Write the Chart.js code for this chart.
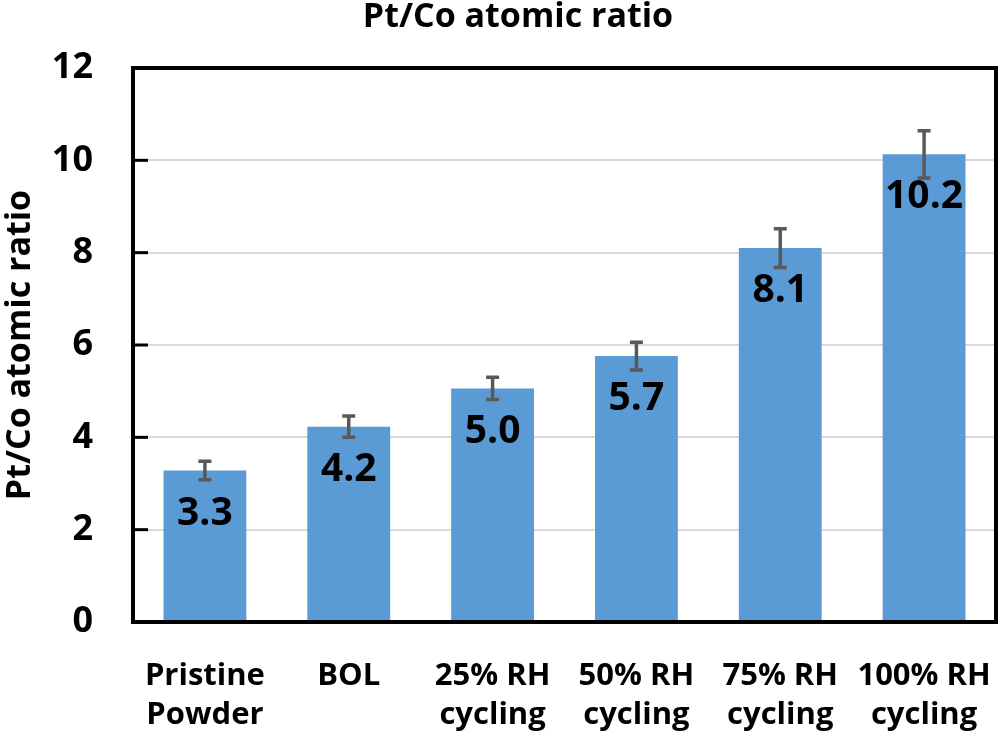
<!DOCTYPE html>
<html>
<head>
<meta charset="utf-8">
<script src="https://cdn.jsdelivr.net/npm/chart.js@4.4.1/dist/chart.umd.min.js"></script>
<style>
  html, body { margin: 0; padding: 0; background: #fff; }
  #wrap { width: 1001px; height: 738px; }
</style>
</head>
<body>
<div id="wrap"><canvas id="chart"></canvas></div>
<script>
const categories = [
  ["Pristine", "Powder"],
  ["BOL"],
  ["25% RH", "cycling"],
  ["50% RH", "cycling"],
  ["75% RH", "cycling"],
  ["100% RH", "cycling"],
];
const ratioValues = [3.28, 4.23, 5.06, 5.76, 8.1, 10.13];
const ratioErrors = [0.2, 0.23, 0.24, 0.3, 0.42, 0.51];
const barLabels = ["3.3", "4.2", "5.0", "5.7", "8.1", "10.2"];
const yTicks = [0, 2, 4, 6, 8, 10, 12];

const fontFamily = "'Open Sans', 'Liberation Sans', sans-serif";

// frame, inward ticks, error bars, value labels, title
const extras = {
  id: "extras",
  afterDatasetsDraw(chart) {
    const ctx = chart.ctx;
    const area = chart.chartArea;
    const y = chart.scales.y;
    const meta = chart.getDatasetMeta(0);

    ctx.save();
    // error bars
    ctx.strokeStyle = "#595959";
    ctx.lineWidth = 3.5;
    meta.data.forEach((bar, i) => {
      const hi = y.getPixelForValue(ratioValues[i] + ratioErrors[i]);
      const lo = y.getPixelForValue(ratioValues[i] - ratioErrors[i]);
      ctx.beginPath();
      ctx.moveTo(bar.x, hi);
      ctx.lineTo(bar.x, lo);
      ctx.moveTo(bar.x - 6.5, hi);
      ctx.lineTo(bar.x + 6.5, hi);
      ctx.moveTo(bar.x - 6.5, lo);
      ctx.lineTo(bar.x + 6.5, lo);
      ctx.stroke();
    });

    // labels inside the bars
    ctx.fillStyle = "#000";
    ctx.font = "bold 39px " + fontFamily;
    ctx.textAlign = "center";
    ctx.textBaseline = "middle";
    meta.data.forEach((bar, i) => {
      ctx.fillText(barLabels[i], bar.x, bar.y + 43);
    });

    // frame
    ctx.strokeStyle = "#000";
    ctx.lineWidth = 4;
    ctx.strokeRect(area.left, area.top, area.right - area.left, area.bottom - area.top);

    // inward ticks on the left
    ctx.lineWidth = 3;
    yTicks.forEach((v) => {
      const py = y.getPixelForValue(v);
      ctx.beginPath();
      ctx.moveTo(area.left, py);
      ctx.lineTo(area.left + 15, py);
      ctx.stroke();
    });

    // title
    ctx.font = "bold 34px " + fontFamily;
    ctx.textBaseline = "middle";
    ctx.fillText("Pt/Co atomic ratio", 518, 17);
    ctx.restore();
  },
};

new Chart(document.getElementById("chart"), {
  type: "bar",
  data: {
    labels: categories,
    datasets: [
      {
        data: ratioValues,
        backgroundColor: "#5b9bd5",
        borderWidth: 0,
        categoryPercentage: 1,
        barPercentage: 0.576,
      },
    ],
  },
  options: {
    responsive: true,
    maintainAspectRatio: false,
    animation: false,
    layout: { padding: { top: 68, right: 5, left: 0, bottom: 0 } },
    plugins: {
      legend: { display: false },
      title: { display: false },
      tooltip: { enabled: false },
    },
    scales: {
      x: {
        grid: { display: false, drawTicks: false },
        border: { display: false },
        ticks: {
          color: "#000",
          font: { family: fontFamily, size: 31, weight: "bold", lineHeight: 1.28 },
          padding: 34,
          maxRotation: 0,
          autoSkip: false,
        },
        afterFit(scale) {
          scale.height = 116;
          scale.paddingLeft = 0;
          scale.paddingRight = 0;
        },
      },
      y: {
        min: 0,
        max: 12,
        afterBuildTicks(scale) {
          scale.ticks = yTicks.map((v) => ({ value: v }));
        },
        grid: { color: "#d9d9d9", lineWidth: 2, drawTicks: false },
        border: { display: false },
        ticks: {
          color: "#000",
          font: { family: fontFamily, size: 36, weight: "bold" },
          padding: 40,
        },
        title: {
          display: true,
          text: "Pt/Co atomic ratio",
          color: "#000",
          font: { family: fontFamily, size: 34, weight: "bold" },
          padding: 0,
        },
        afterFit(scale) {
          scale.width = 133;
        },
      },
    },
  },
  plugins: [extras],
});
</script>
</body>
</html>
